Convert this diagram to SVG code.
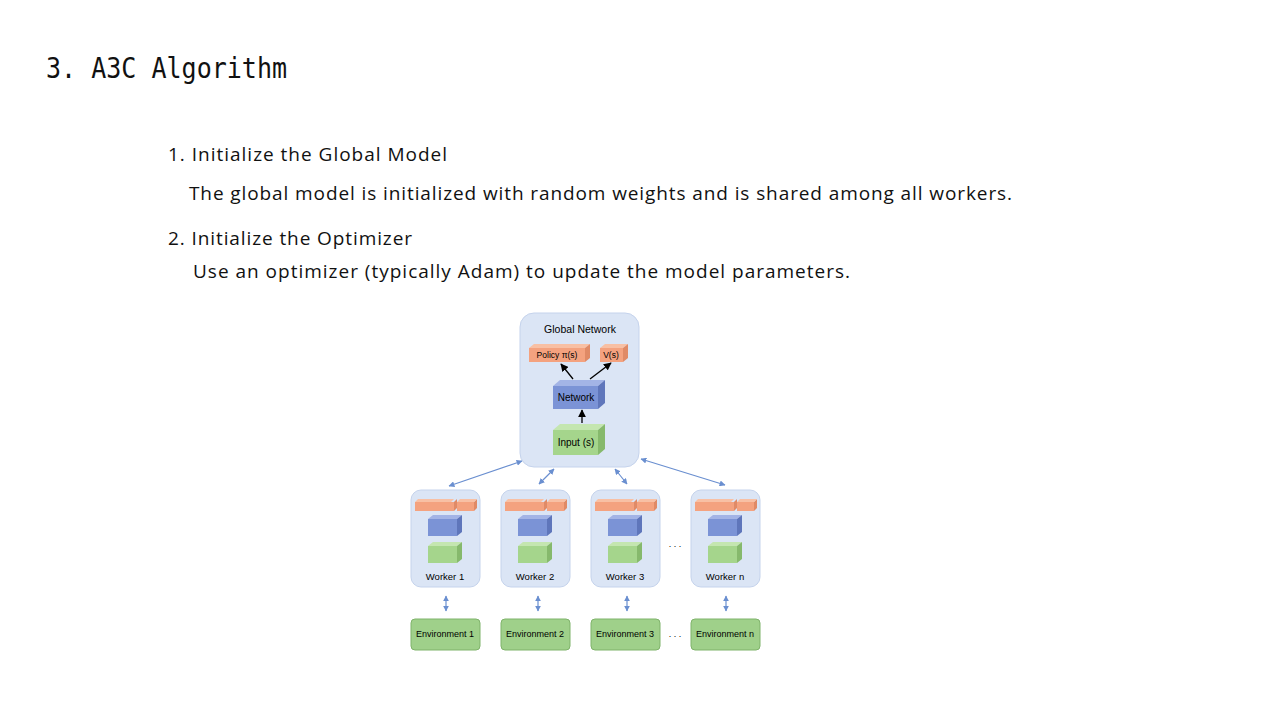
<svg xmlns="http://www.w3.org/2000/svg" width="1280" height="720" viewBox="0 0 1280 720">
<style>
.t{font-family:"Liberation Sans",Arial,sans-serif;fill:#000}
.b{font-family:"Open Sans","Noto Sans",sans-serif;fill:#111;font-size:19px}
.pan{fill:#dbe5f5;stroke:#c5d3ec;stroke-width:1}
.env{fill:#9fd08a;stroke:#7fb36a;stroke-width:1}
.of{fill:#f4a27f}.ot{fill:#f8c0a4}.os{fill:#e08a66}
.bf{fill:#7b93d6}.bt{fill:#a3b4e6}.bs{fill:#5f76bb}
.gf{fill:#a5d58c}.gt{fill:#c4e6b0}.gs{fill:#86b96c}
.c{stroke:#6a8fd0;stroke-width:1.2;fill:none}
.k{stroke:#000;stroke-width:1.3;fill:none}
</style>
<defs>
<marker id="ab" viewBox="0 0 10 10" refX="9" refY="5" markerWidth="5" markerHeight="5" orient="auto-start-reverse"><path d="M0,0L10,5L0,10z" fill="#6a8fd0"/></marker>
<marker id="ak" viewBox="0 0 10 10" refX="9" refY="5" markerWidth="6" markerHeight="6" orient="auto"><path d="M0,0L10,5L0,10z" fill="#000"/></marker>
</defs>
<rect width="1280" height="720" fill="#fff"/>
<text x="46" y="78" style="font-family:'DejaVu Sans Mono','Liberation Mono',monospace;font-size:28px" fill="#111" textLength="241" lengthAdjust="spacingAndGlyphs">3. A3C Algorithm</text>
<text class="b" x="168" y="161" textLength="279">1. Initialize the Global Model</text>
<text class="b" x="189" y="200" textLength="823">The global model is initialized with random weights and is shared among all workers.</text>
<text class="b" x="168" y="245" textLength="244">2. Initialize the Optimizer</text>
<text class="b" x="193" y="278" textLength="657">Use an optimizer (typically Adam) to update the model parameters.</text>

<g id="global">
<rect class="pan" x="520" y="313" width="119" height="154" rx="14"/>
<text class="t" x="580" y="333" font-size="10.5" text-anchor="middle">Global Network</text>
<path class="of" d="M529,348h56v14h-56z"/><path class="ot" d="M529,348l5,-4h56l-5,4z"/><path class="os" d="M585,348l5,-4v14l-5,4z"/>
<text class="t" x="557" y="358" font-size="8.5" text-anchor="middle">Policy π(s)</text>
<path class="of" d="M600,348h23v14h-23z"/><path class="ot" d="M600,348l5,-4h23l-5,4z"/><path class="os" d="M623,348l5,-4v14l-5,4z"/>
<text class="t" x="611" y="358" font-size="8.5" text-anchor="middle">V(s)</text>
<path class="bf" d="M553,386h45v23h-45z"/><path class="bt" d="M553,386l7,-6h45l-7,6z"/><path class="bs" d="M598,386l7,-6v23l-7,6z"/>
<text class="t" x="576" y="401" font-size="10" text-anchor="middle">Network</text>
<path class="gf" d="M553,430h45v25h-45z"/><path class="gt" d="M553,430l7,-6h45l-7,6z"/><path class="gs" d="M598,430l7,-6v25l-7,6z"/>
<text class="t" x="576" y="446" font-size="10" text-anchor="middle">Input (s)</text>
</g>

<g id="worker1"><rect class="pan" x="411" y="490" width="69" height="97" rx="10"/>
<path class="of" d="M415,502h39v9h-39z"/><path class="os" d="M454,502l3,-3v9l-3,3z"/><path class="of" d="M457,502h17v9h-17z"/><path class="os" d="M474,502l3,-3v9l-3,3z"/><path class="ot" d="M415,502l3,-3h36l-3,3zM457,502l3,-3h17l-3,3z"/>
<path class="bf" d="M428,519h29v17h-29z"/><path class="bt" d="M428,519l5,-4h29l-5,4z"/><path class="bs" d="M457,519l5,-4v17l-5,4z"/>
<path class="gf" d="M428,546h29v17h-29z"/><path class="gt" d="M428,546l5,-4h29l-5,4z"/><path class="gs" d="M457,546l5,-4v17l-5,4z"/>
<text class="t" x="445" y="580" font-size="9.5" text-anchor="middle">Worker 1</text></g>
<g id="worker2" transform="translate(90,0)"><rect class="pan" x="411" y="490" width="69" height="97" rx="10"/>
<path class="of" d="M415,502h39v9h-39z"/><path class="os" d="M454,502l3,-3v9l-3,3z"/><path class="of" d="M457,502h17v9h-17z"/><path class="os" d="M474,502l3,-3v9l-3,3z"/><path class="ot" d="M415,502l3,-3h36l-3,3zM457,502l3,-3h17l-3,3z"/>
<path class="bf" d="M428,519h29v17h-29z"/><path class="bt" d="M428,519l5,-4h29l-5,4z"/><path class="bs" d="M457,519l5,-4v17l-5,4z"/>
<path class="gf" d="M428,546h29v17h-29z"/><path class="gt" d="M428,546l5,-4h29l-5,4z"/><path class="gs" d="M457,546l5,-4v17l-5,4z"/>
<text class="t" x="445" y="580" font-size="9.5" text-anchor="middle">Worker 2</text></g>
<g id="worker3" transform="translate(180,0)"><rect class="pan" x="411" y="490" width="69" height="97" rx="10"/>
<path class="of" d="M415,502h39v9h-39z"/><path class="os" d="M454,502l3,-3v9l-3,3z"/><path class="of" d="M457,502h17v9h-17z"/><path class="os" d="M474,502l3,-3v9l-3,3z"/><path class="ot" d="M415,502l3,-3h36l-3,3zM457,502l3,-3h17l-3,3z"/>
<path class="bf" d="M428,519h29v17h-29z"/><path class="bt" d="M428,519l5,-4h29l-5,4z"/><path class="bs" d="M457,519l5,-4v17l-5,4z"/>
<path class="gf" d="M428,546h29v17h-29z"/><path class="gt" d="M428,546l5,-4h29l-5,4z"/><path class="gs" d="M457,546l5,-4v17l-5,4z"/>
<text class="t" x="445" y="580" font-size="9.5" text-anchor="middle">Worker 3</text></g>
<g id="workern" transform="translate(280,0)"><rect class="pan" x="411" y="490" width="69" height="97" rx="10"/>
<path class="of" d="M415,502h39v9h-39z"/><path class="os" d="M454,502l3,-3v9l-3,3z"/><path class="of" d="M457,502h17v9h-17z"/><path class="os" d="M474,502l3,-3v9l-3,3z"/><path class="ot" d="M415,502l3,-3h36l-3,3zM457,502l3,-3h17l-3,3z"/>
<path class="bf" d="M428,519h29v17h-29z"/><path class="bt" d="M428,519l5,-4h29l-5,4z"/><path class="bs" d="M457,519l5,-4v17l-5,4z"/>
<path class="gf" d="M428,546h29v17h-29z"/><path class="gt" d="M428,546l5,-4h29l-5,4z"/><path class="gs" d="M457,546l5,-4v17l-5,4z"/>
<text class="t" x="445" y="580" font-size="9.5" text-anchor="middle">Worker n</text></g>

<g id="env1"><rect class="env" x="411" y="619" width="69" height="31" rx="4"/><text class="t" x="445" y="637" font-size="9" text-anchor="middle">Environment 1</text></g>
<g id="env2"><rect class="env" x="501" y="619" width="69" height="31" rx="4"/><text class="t" x="535" y="637" font-size="9" text-anchor="middle">Environment 2</text></g>
<g id="env3"><rect class="env" x="591" y="619" width="69" height="31" rx="4"/><text class="t" x="625" y="637" font-size="9" text-anchor="middle">Environment 3</text></g>
<g id="envn"><rect class="env" x="691" y="619" width="69" height="31" rx="4"/><text class="t" x="725" y="637" font-size="9" text-anchor="middle">Environment n</text></g>
<text class="t" x="675" y="547" font-size="9" text-anchor="middle">. . .</text>
<text class="t" x="675" y="637" font-size="9" text-anchor="middle">. . .</text>

<g id="connectors">
<path class="k" d="M573,379L561,364" marker-end="url(#ak)"/>
<path class="k" d="M590,379L611,363" marker-end="url(#ak)"/>
<path class="k" d="M582,423V410" marker-end="url(#ak)"/>
<path class="c" d="M522,461L449,486" marker-start="url(#ab)" marker-end="url(#ab)"/>
<path class="c" d="M554,469L539,484" marker-start="url(#ab)" marker-end="url(#ab)"/>
<path class="c" d="M615,469L627,484" marker-start="url(#ab)" marker-end="url(#ab)"/>
<path class="c" d="M641,459L725,485" marker-start="url(#ab)" marker-end="url(#ab)"/>
<path class="c" d="M446,596V611" marker-start="url(#ab)" marker-end="url(#ab)"/>
<path class="c" d="M538,596V611" marker-start="url(#ab)" marker-end="url(#ab)"/>
<path class="c" d="M627,596V611" marker-start="url(#ab)" marker-end="url(#ab)"/>
<path class="c" d="M726,596V611" marker-start="url(#ab)" marker-end="url(#ab)"/>
</g>
</svg>
